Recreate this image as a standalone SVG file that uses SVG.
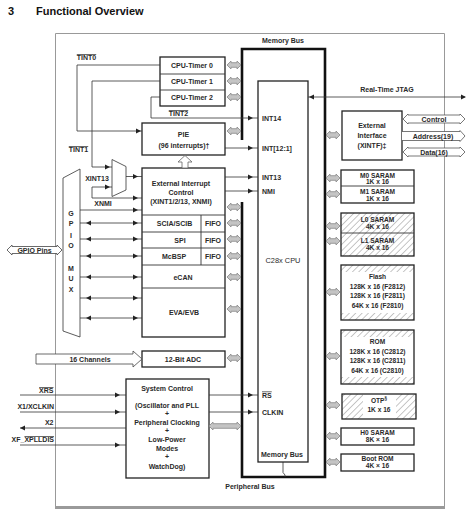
<svg xmlns="http://www.w3.org/2000/svg" xmlns:xlink="http://www.w3.org/1999/xlink" width="474" height="510" viewBox="0 0 474 510">
<style>
text{font-family:"Liberation Sans",Arial,sans-serif;font-size:7px;font-weight:bold;fill:#2a2a2a;text-anchor:middle}
.t{font-size:11px;text-anchor:start;fill:#111}
.m{font-size:6.6px}
.n{font-weight:normal;font-size:7.4px}
.s{text-anchor:start}
.e{text-anchor:end}
.ol{text-decoration:overline}
.bx{fill:#fff;stroke:#222;stroke-width:1.3}
.dv{fill:none;stroke:#333;stroke-width:0.9}
.ln{fill:none;stroke:#333;stroke-width:0.8}
.bus{fill:none;stroke:#111;stroke-width:2.6}
.gb{fill:#c4c4c4;stroke:#888;stroke-width:0.8}
.ho{fill:#fff;stroke:#555;stroke-width:0.8}
.ah{fill:#222}
</style>
<defs>
<path id="ba" class="gb" d="M0,0 L4,-4 L4,-2.3 L10,-2.3 L10,-4 L14,0 L10,4 L10,2.3 L4,2.3 L4,4 Z"/>
<path id="ar" class="ah" d="M0,0 L-5,-2.6 L-5,2.6 Z"/>
<path id="al" class="ah" d="M0,0 L5,-2.6 L5,2.6 Z"/>
<pattern id="h" width="4.5" height="4.5" patternUnits="userSpaceOnUse" patternTransform="rotate(45)">
<rect width="4.5" height="4.5" fill="#fff"/>
<line x1="0" y1="0" x2="0" y2="4.5" stroke="#b8b8b8" stroke-width="1.6"/>
</pattern>
</defs>
<rect width="474" height="510" fill="#fff"/>

<g id="title">
<text class="t" x="8" y="15">3</text>
<text class="t" x="36" y="15">Functional Overview</text>
</g>

<g id="frame">
<path d="M55.5,506 V33.5 H444.5 V506" fill="none" stroke="#999" stroke-width="1"/>
<line x1="55" y1="507.5" x2="445" y2="507.5" stroke="#9a9a9a" stroke-width="3"/>
</g>

<g id="buses">
<path class="bus" d="M242,140 V49 H325 V477 H242 V202"/>
<path class="ln" d="M283,462 V472.5 L285,475 V477"/>
<text x="283" y="43">Memory Bus</text>
<text x="250" y="489">Peripheral Bus</text>
</g>

<g id="cpu">
<rect class="bx" x="258" y="81" width="50" height="381"/>
<text class="n" x="283" y="263">C28x CPU</text>
<text class="s" x="262" y="120.5">INT14</text>
<text class="s" x="262" y="150.5">INT[12:1]</text>
<text class="s" x="262" y="179.5">INT13</text>
<text class="s" x="262" y="193.5">NMI</text>
<text class="s" x="262" y="397.5"><tspan class="ol">RS</tspan></text>
<text class="s" x="262" y="414.5">CLKIN</text>
<text x="282" y="457">Memory Bus</text>
</g>

<g id="timers">
<rect class="bx" x="160" y="57" width="65" height="49"/>
<path class="dv" d="M160,74 H225 M160,90 H225"/>
<text x="192" y="67.5">CPU-Timer 0</text>
<text x="192" y="83.5">CPU-Timer 1</text>
<text x="192" y="99.5">CPU-Timer 2</text>
</g>

<g id="pie">
<rect class="bx" x="142" y="123" width="83" height="32"/>
<text x="183.5" y="137">PIE</text>
<text x="184" y="147.5">(96 interrupts)†</text>
</g>

<g id="mux">
<path class="ho" d="M112,159.5 L126,166.5 V190 L112,196.5 Z" style="stroke:#333"/>
</g>

<g id="gpio-mux">
<path class="ho" d="M63,178 L80,169 V337 L63,331 Z" style="stroke:#333"/>
<text x="71" y="215.5">G</text>
<text x="71" y="225.5">P</text>
<text x="71" y="237.5">I</text>
<text x="71" y="247.5">O</text>
<text x="71" y="270.5">M</text>
<text x="71" y="280.5">U</text>
<text x="71" y="291.5">X</text>
</g>

<g id="gpio-pins">
<path class="ho" d="M7,250 L12,245 V246.5 H57 V245 L62,250 L57,255 V253.5 H12 V255 Z" style="stroke:#444"/>
<text x="34.5" y="252.5">GPIO Pins</text>
</g>

<g id="peripherals">
<rect class="bx" x="142" y="168" width="83" height="169"/>
<path class="dv" d="M142,215 H225 M142,232 H225 M142,248 H225 M142,265 H225 M142,288 H225 M201,215 V265"/>
<text x="181" y="186">External Interrupt</text>
<text x="181" y="195">Control</text>
<text x="181" y="203.5">(XINT1/2/13, XNMI)</text>
<text x="174.5" y="226">SCIA/SCIB</text>
<text x="213" y="226">FIFO</text>
<text x="180" y="242.5">SPI</text>
<text x="213" y="242.5">FIFO</text>
<text x="174" y="259">McBSP</text>
<text x="213" y="259">FIFO</text>
<text x="183" y="279.5">eCAN</text>
<text x="184" y="314.5">EVA/EVB</text>
</g>

<g id="adc">
<rect class="bx" x="142" y="351" width="83" height="16"/>
<text x="183" y="361.5">12-Bit ADC</text>
</g>

<g id="channels">
<path class="ho" d="M36,354 H133 V351 L142,359 L133,367 V364 H36 Z" style="stroke:#444"/>
<text x="90" y="362">16 Channels</text>
</g>

<g id="system-control">
<rect class="bx" x="126" y="379" width="83" height="99"/>
<text x="167" y="390.5">System Control</text>
<text x="167" y="408">(Oscillator and  PLL</text>
<text x="167" y="415.5">+</text>
<text x="167" y="425">Peripheral Clocking</text>
<text x="167" y="432.5">+</text>
<text x="167" y="442">Low-Power</text>
<text x="167" y="451">Modes</text>
<text x="167" y="459">+</text>
<text x="167" y="469">WatchDog)</text>
</g>

<g id="xintf">
<rect class="bx" x="342" y="111" width="60" height="49"/>
<text x="372" y="128">External</text>
<text x="372" y="138">Interface</text>
<text x="372" y="148">(XINTF)‡</text>
<path class="ho" d="M403,119 L408,114 V115 H460 V114 L465,119 L460,124 V123 H408 V124 Z" style="stroke:#555"/>
<text x="434" y="121.5">Control</text>
<path class="ho" d="M402,131.5 H460 V130.5 L465,136 L460,141.5 V140.5 H402" style="stroke:#555"/>
<text x="433" y="138.5">Address(19)</text>
<path class="ho" d="M403,152 L408,147 V148 H460 V147 L465,152 L460,157 V156 H408 V157 Z" style="stroke:#555"/>
<text x="434" y="154.5">Data(16)</text>
</g>

<g id="m0m1">
<rect class="bx" x="341" y="170" width="73" height="33"/>
<path class="dv" d="M341,186 H414"/>
<text class="m" x="377.5" y="177.5">M0 SARAM</text>
<text class="m" x="377.5" y="184.3">1K x 16</text>
<text class="m" x="377.5" y="194">M1 SARAM</text>
<text class="m" x="377.5" y="200.8">1K x 16</text>
</g>

<g id="l0l1">
<rect class="bx" x="341" y="213" width="73" height="43" fill="url(#h)" style="fill:url(#h)"/>
<path class="dv" d="M341,233 H414"/>
<text class="m" x="377.5" y="221.5">L0 SARAM</text>
<text class="m" x="377.5" y="229">4K x 16</text>
<text class="m" x="377.5" y="242.5">L1 SARAM</text>
<text class="m" x="377.5" y="250">4K x 16</text>
</g>

<g id="flash">
<rect x="341" y="265" width="73" height="7" fill="url(#h)"/>
<rect x="341" y="313" width="73" height="7" fill="url(#h)"/>
<rect x="341" y="265" width="73" height="55" fill="none" stroke="#222" stroke-width="1.3"/>
<text class="m" x="377.5" y="279">Flash</text>
<text class="m" x="377.5" y="288.5">128K x 16 (F2812)</text>
<text class="m" x="377.5" y="298">128K x 16 (F2811)</text>
<text class="m" x="377.5" y="307.5">64K x 16 (F2810)</text>
</g>

<g id="rom">
<rect x="341" y="330" width="73" height="7" fill="url(#h)"/>
<rect x="341" y="377" width="73" height="7" fill="url(#h)"/>
<rect x="341" y="330" width="73" height="54" fill="none" stroke="#222" stroke-width="1.3"/>
<text class="m" x="377.5" y="344">ROM</text>
<text class="m" x="377.5" y="353.5">128K x 16 (C2812)</text>
<text class="m" x="377.5" y="363">128K x 16 (C2811)</text>
<text class="m" x="377.5" y="372.5">64K x 16 (C2810)</text>
</g>

<g id="otp">
<rect x="342" y="394" width="21" height="25" fill="url(#h)"/>
<rect x="396" y="394" width="20" height="25" fill="url(#h)"/>
<rect x="342" y="394" width="74" height="25" fill="none" stroke="#222" stroke-width="1.3"/>
<text class="m" x="379" y="402.5">OTP<tspan font-size="4.5" dy="-2.5">§</tspan></text>
<text class="m" x="379" y="412">1K x 16</text>
</g>

<g id="h0">
<rect class="bx" x="341" y="428" width="73" height="17"/>
<text class="m" x="377.5" y="435">H0 SARAM</text>
<text class="m" x="377.5" y="442">8K × 16</text>
</g>

<g id="bootrom">
<rect class="bx" x="341" y="454" width="73" height="17"/>
<text class="m" x="377.5" y="461">Boot ROM</text>
<text class="m" x="377.5" y="468">4K × 16</text>
</g>

<g id="connectors">
<path class="ln" d="M160,65 H77 V131 H142"/>
<path class="ln" d="M160,81 H92 V167 H112"/>
<path class="ln" d="M160,97 H151 V118 H258"/>
<path class="ln" d="M92,187 H112 M92,187 V198 H142"/>
<path class="ln" d="M126,176.5 H142"/>
<path class="ln" d="M80,210 H142"/>
<path class="ln" d="M80,223 H142 M80,239 H142 M80,256 H142 M80,277 H142 M80,298 H142 M80,318 H142"/>
<path class="ln" d="M225,148 H258 M225,177 H258 M225,191 H258"/>
<path class="ln" d="M308,97 H465"/>
<path class="ln" d="M209,395 H258 M209,412 H258"/>
<path class="ln" d="M20,395 H126 M20,412 H126 M20,428 H126 M20,445 H126"/>

<use xlink:href="#ar" x="141" y="131"/>
<use xlink:href="#ar" x="110" y="167"/>
<use xlink:href="#ar" x="110" y="187"/>
<use xlink:href="#ar" x="138" y="176.5"/>
<use xlink:href="#ar" x="138" y="198"/>
<use xlink:href="#ar" x="138" y="210"/>
<use xlink:href="#ar" x="138" y="223"/><use xlink:href="#al" x="86" y="223"/>
<use xlink:href="#ar" x="138" y="239"/><use xlink:href="#al" x="86" y="239"/>
<use xlink:href="#ar" x="138" y="256"/><use xlink:href="#al" x="86" y="256"/>
<use xlink:href="#ar" x="138" y="277"/><use xlink:href="#al" x="86" y="277"/>
<use xlink:href="#ar" x="138" y="298"/><use xlink:href="#al" x="86" y="298"/>
<use xlink:href="#ar" x="138" y="318"/><use xlink:href="#al" x="86" y="318"/>
<use xlink:href="#ar" x="253" y="118"/>
<use xlink:href="#ar" x="253" y="148"/>
<use xlink:href="#ar" x="253" y="177"/>
<use xlink:href="#ar" x="253" y="191"/>
<use xlink:href="#al" x="309" y="97"/>
<use xlink:href="#ar" x="466" y="97"/>
<use xlink:href="#ar" x="253" y="395"/>
<use xlink:href="#ar" x="253" y="412"/>
<use xlink:href="#ar" x="120" y="395"/>
<use xlink:href="#ar" x="120" y="412"/>
<use xlink:href="#al" x="20" y="428"/>
<use xlink:href="#ar" x="120" y="445"/>

<path class="ho" d="M185,155.5 L192,162 H188 V168 H182 V162 H178 Z" style="stroke:#666"/>

<use xlink:href="#ba" x="227" y="65"/>
<use xlink:href="#ba" x="227" y="81"/>
<use xlink:href="#ba" x="227" y="97"/>
<use xlink:href="#ba" x="227" y="131"/>
<use xlink:href="#ba" x="227" y="207"/>
<use xlink:href="#ba" x="227" y="223"/>
<use xlink:href="#ba" x="227" y="239"/>
<use xlink:href="#ba" x="227" y="256"/>
<use xlink:href="#ba" x="227" y="277"/>
<use xlink:href="#ba" x="227" y="309"/>
<use xlink:href="#ba" x="227" y="358"/>
<path class="gb" d="M209,426 L213,422 V423.7 H237 V422 L241,426 L237,430 V428.3 H213 V430 Z"/>
<use xlink:href="#ba" x="326" y="135"/>
<use xlink:href="#ba" x="326" y="178"/>
<use xlink:href="#ba" x="326" y="194"/>
<use xlink:href="#ba" x="326" y="226"/>
<use xlink:href="#ba" x="326" y="241"/>
<use xlink:href="#ba" x="326" y="292"/>
<use xlink:href="#ba" x="326" y="356"/>
<use xlink:href="#ba" x="326" y="405"/>
<use xlink:href="#ba" x="326" y="436"/>
<use xlink:href="#ba" x="326" y="462"/>

<text x="86.5" y="60"><tspan class="ol">TINT0</tspan></text>
<text x="78.5" y="152"><tspan class="ol">TINT1</tspan></text>
<text x="178.5" y="116"><tspan class="ol">TINT2</tspan></text>
<text x="97" y="181">XINT13</text>
<text x="103" y="206">XNMI</text>
<text x="387" y="92">Real-Time JTAG</text>
<text class="e" x="53.5" y="393"><tspan class="ol">XRS</tspan></text>
<text class="e" x="54" y="409">X1/XCLKIN</text>
<text class="e" x="53.5" y="425">X2</text>
<text class="e" x="54" y="442">XF_<tspan class="ol">XPLLDIS</tspan></text>
</g>
</svg>
